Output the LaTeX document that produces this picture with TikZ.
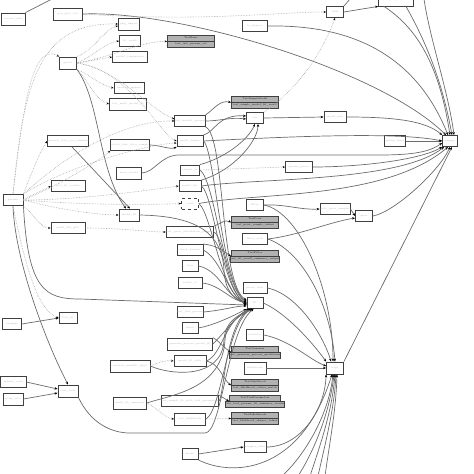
\documentclass[tikz,border=0pt]{standalone}
\usetikzlibrary{arrows.meta}
\newcommand\tinyfnt{\fontsize{2.4}{2.8}\selectfont}
\tikzset{
 nd/.style={draw=black!75, line width=0.85pt, fill=white, inner sep=0pt, font=\tinyfnt, text=gray!60},
 recrow/.style={draw=black!75, line width=0.85pt, fill=gray!60, inner sep=0pt, font=\tinyfnt, text=gray!15!black, minimum height=6pt},
 dep/.style={draw=black!58, line width=0.7pt, -{Stealth[length=3pt,width=2.4pt,color=black]}},
 dep0/.style={draw=black!58, line width=0.7pt},
 lgt/.style={draw=black!35, line width=0.6pt, densely dotted, -{Stealth[length=2.5pt,width=2pt,color=black]}},
 lbl/.style={font=\tinyfnt, text=gray!55, inner sep=0.3pt},
}
\newcommand\bxn[6]{\node[nd,minimum width=#4pt,minimum height=#5pt] (#1) at (#2,#3) {#6};}
\newcommand\recnode[6]{\node[recrow,minimum width=#4pt] (#1a) at (#2,#3-3) {#5}; \node[recrow,minimum width=#4pt] (#1b) at (#2,#3+3) {#6};}
\begin{document}
\begin{tikzpicture}[x=1pt,y=-1pt]
\useasboundingbox (0,0) rectangle (474,474);
\bxn{L1}{13}{19}{24}{12}{version\_info}
\bxn{B2}{68}{14}{29}{12}{gen\_plot\_test}
\bxn{B3}{129}{24}{21}{12}{pkg\_import}
\bxn{B4}{130}{41}{21}{11}{fit\_result}
\bxn{B5}{130}{57}{35}{11}{model\_comparison}
\bxn{B6}{68}{63}{17}{12}{pytest}
\bxn{B7}{129}{88}{30}{11}{analysis\_helpers}
\bxn{B8}{128}{104}{37}{12}{test\_multi\_model\_fit}
\recnode{G1}{191}{41}{47}{TestBasic}{test\_init\_params\_set}
\bxn{B10}{255}{26}{25}{11}{io\_helpers}
\bxn{N1}{335}{12}{17}{11}{utils}
\bxn{T0}{396}{0}{35}{12}{plot\_utils}
\recnode{G2}{255}{102}{47}{TestSimpleModel}{test\_simple\_model\_fit\_result}
\bxn{B12}{255}{118}{17}{11}{core}
\bxn{B13}{190}{121}{28}{11}{test\_models\_general}
\bxn{B14}{335}{117}{22}{11}{model\_info}
\bxn{C1}{68}{141}{41}{11}{generate\_data\_for\_simulate}
\bxn{C2}{130}{145}{39}{11}{create\_fake\_data\_sample}
\bxn{C3}{190}{141}{26}{11}{model\_helper}
\bxn{C4}{129}{173}{25}{12}{noise\_model}
\bxn{C5}{190}{170}{19}{10}{sample\_fn}
\bxn{C6}{299}{167}{27}{11}{param\_parser}
\bxn{R}{450}{141}{15}{11}{numpy}
\bxn{C7}{395}{141}{21}{11}{param\_fixes}
\bxn{D1}{68}{186}{34}{11}{plot\_fit\_results}
\bxn{P}{13}{200}{20}{11}{params}
\bxn{D2}{190}{186}{22}{11}{model\_list}
\node[nd,dashed,minimum width=17pt,minimum height=11pt] (DS) at (190,203.5) {conf};
\bxn{D3}{129}{215}{20}{12}{model\_fit}
\bxn{D4}{255}{205}{17}{11}{fitter}
\bxn{D5}{335}{209}{30}{11}{data\_prior\_sampler}
\bxn{D6}{364}{216}{17}{11}{prior}
\recnode{G3}{255}{222}{47}{TestPrior}{test\_prior\_sample\_values}
\bxn{D7}{68}{228}{34}{11}{multi\_fits\_plot}
\bxn{D8}{190}{232}{43}{11}{test\_prior\_distribution\_samples}
\bxn{D9}{255}{239}{25}{11}{fitter\_utils}
\bxn{E1}{190}{250}{26}{11}{check\_bounds}
\recnode{G4}{255}{256}{47}{TestFitter}{test\_fit\_result\_summary\_output}
\bxn{E2}{190}{266}{16}{11}{stats}
\bxn{E3}{190}{283}{24}{11}{results\_io}
\bxn{E4}{255}{288}{24}{11}{priors\_utils}
\bxn{H}{255}{303}{16}{11}{fit}
\bxn{E5}{190}{312}{26}{11}{test\_tied\_params}
\bxn{F1}{68}{318}{18}{11}{tied\_fit}
\bxn{F2}{12}{324}{19}{11}{example}
\bxn{E6}{190}{328}{16}{11}{bayes}
\bxn{E7}{255}{335}{17}{11}{statistics}
\bxn{E8}{190}{344}{45}{12}{gaussian\_process\_model\_fit}
\recnode{G5}{255}{352}{47}{TestGaussian}{test\_gaussian\_process\_predictions}
\bxn{F3}{190}{361}{32}{11}{model\_fit\_utils}
\bxn{F4}{130}{366}{40}{12}{analysis\_multifit\_plots}
\bxn{F5}{255}{368}{22}{12}{likelihoods}
\bxn{S}{335}{368}{17}{12}{scipy}
\bxn{F6}{13}{382}{26}{11}{sphinx\_conf}
\bxn{F7}{68}{391}{20}{12}{conf\_tests}
\recnode{G6}{255}{385}{47}{TestLikelihood}{test\_likelihood\_values\_match}
\bxn{F8}{13}{399}{20}{12}{setup\_docs}
\bxn{F9}{130}{403}{33}{12}{multi\_fit\_summary}
\bxn{F10}{190}{401}{53}{11}{test\_simple\_fit\_with\_tied\_parameters}
\recnode{G7}{255}{401}{51}{TestTiedParameters}{test\_tied\_params\_fit\_summary\_results}
\bxn{F11}{190}{419}{31}{12}{test\_likelihoods}
\recnode{G8}{255}{418}{47}{TestLikelihoods}{test\_likelihood\_shapes\_values}
\bxn{F12}{255}{447}{22}{11}{sampler\_utils}
\bxn{F13}{190}{454}{16}{11}{mcmc}
% free ends
\coordinate (t1) at (52,-1);
\coordinate (t2) at (350,-1);
\coordinate (t3) at (424,-1);
\coordinate (b1) at (282,476);
\coordinate (b2) at (298,476);
\coordinate (b3) at (310,476);
\coordinate (b4) at (318,476);
\coordinate (b5) at (325,476);
% top area
\draw[dep0] (L1.north east) -- (t1);
\draw[dep0] (t2) -- (N1.north east);
\draw[dep] (N1.east) -- (T0.south west);
\draw[dep] (B2.east) .. controls (180,10) and (380,70) .. ([xshift=-4pt]R.north);
\draw[dep] (B10.east) .. controls (330,25) and (410,40) .. ([xshift=-2pt]R.north);
\draw[dep] ([xshift=-12pt]T0.south) .. controls (420,30) and (440,70) .. (R.north);
\draw[dep] ([xshift=10pt]T0.south) .. controls (425,40) and (442,80) .. ([xshift=2pt]R.north);
\draw[dep] (t3) .. controls (430,40) and (448,90) .. ([xshift=4pt]R.north);
\draw[lgt] (B2.east) .. controls (200,22) and (280,12) .. (N1.west);
\draw[lgt] (B12.north east) .. controls (290,95) and (320,60) .. (N1.south);
% into R
\draw[dep] (B14.east) .. controls (390,117) and (425,120) .. (R.north west);
\draw[dep] (C3.east) .. controls (300,136) and (400,132) .. (R.west);
\draw[dep] (C4.east) .. controls (155,172) and (160,156) .. (178,155) -- (380,155) .. controls (420,155) and (432,150) .. ([yshift=-2pt]R.west);
\draw[dep] (C6.east) .. controls (360,167) and (420,160) .. (R.south west);
\draw[dep] (D2.east) .. controls (260,178) and (400,182) .. ([xshift=2pt]R.south west);
\draw[dep] (DS.east) .. controls (260,192) and (385,200) .. ([xshift=-2pt]R.south);
\draw[dep] (D6.east) .. controls (395,212) and (440,170) .. (R.south);
\draw[dep] (C7.east) -- (R.west);
\draw[dep] (S.north east) -- ([xshift=2pt]R.south);
% core area
\draw[dep] (B12.east) -- (B14.west);
\draw[dep] (C3.north east) .. controls (215,132) and (218,114) .. ([yshift=2pt]B12.west);
\draw[dep] (B13.east) .. controls (220,121) and (230,117) .. ([yshift=-1pt]B12.west);
\draw[dep] (C5.north east) .. controls (225,158) and (248,140) .. (B12.south);
\draw[dep] (D2.north east) .. controls (235,170) and (258,140) .. ([xshift=3pt]B12.south);
\draw[dep] (B13.north east) .. controls (215,108) and (220,100) .. (G2a.south west);
\draw[dep] (C2.east) .. controls (160,145) and (170,150) .. (C3.south west);
\draw[dep] (B6.south east) .. controls (100,100) and (98,170) .. ([xshift=-3pt]D3.north);
\draw[dep] ([xshift=4pt]C1.south) -- ([xshift=1pt]D3.north);
% bundle into H
\draw[dep] (B13.south east) .. controls (225,135) and (220,285) .. ([yshift=3pt]H.west);
\draw[dep] (C3.east) .. controls (215,150) and (222,288) .. ([yshift=2pt]H.west);
\draw[dep] (C5.east) .. controls (215,180) and (224,290) .. ([yshift=1pt]H.west);
\draw[dep] (D2.east) .. controls (214,195) and (222,292) .. (H.west);
\draw[dep] (DS.east) .. controls (212,215) and (221,294) .. ([yshift=-1pt]H.west);
\draw[dep] (D3.east) .. controls (200,216) and (222,235) .. (224,270) .. controls (225,292) and (235,300) .. (H.west);
\draw[dep] (D8.east) .. controls (225,240) and (226,290) .. ([yshift=-2pt]H.west);
\draw[dep] (E1.east) .. controls (222,260) and (228,296) .. ([yshift=-1pt]H.west);
\draw[dep] (E2.east) .. controls (220,270) and (226,298) .. (H.west);
\draw[dep] (E3.east) .. controls (220,285) and (230,300) .. (H.west);
\draw[dep] (P.south east) .. controls (28,290) and (45,299) .. (80,299) -- ([yshift=-2pt]H.west);
\draw[dep] (E5.east) .. controls (225,310) and (235,306) .. ([yshift=-3pt]H.west);
\draw[dep] (E6.east) .. controls (215,325) and (235,315) .. (H.south west);
\draw[dep] (E8.east) .. controls (222,335) and (235,318) .. ([xshift=2pt]H.south west);
\draw[dep] (F3.east) .. controls (222,355) and (225,320) .. ([xshift=3pt]H.south west);
\draw[dep] (F4.east) .. controls (170,375) and (222,380) .. (224,340) .. controls (225,320) and (240,315) .. ([xshift=4pt]H.south west);
\draw[dep] (F9.east) .. controls (170,395) and (222,390) .. (225,340) .. controls (226,322) and (240,316) .. ([xshift=5pt]H.south west);
\draw[dep] (F10.east) .. controls (224,395) and (226,320) .. ([xshift=5pt]H.south west);
\draw[dep] (F11.east) .. controls (222,410) and (227,320) .. ([xshift=6pt]H.south west);
\draw[dep] (F7.south east) .. controls (90,422) and (110,433) .. (130,433) -- (205,433) .. controls (222,433) and (227,330) .. ([xshift=7pt]H.south west);
% records
\draw[dep] (D8.north east) .. controls (220,224) and (225,219) .. (G3a.south west);
\draw[dep] (E1.north east) .. controls (215,245) and (222,250) .. (G4a.south west);
\draw[dep] (E8.north east) .. controls (218,340) and (222,346) .. (G5a.south west);
\draw[dep] (F3.east) .. controls (220,364) and (222,378) .. (G6a.south west);
\draw[dep] (F10.north east) .. controls (220,396) and (224,398) .. (G7a.south west);
\draw[lgt] (F11.east) -- (G8a.south west) node[lbl,midway,above]{1};
\draw[lgt] (B6.east) .. controls (110,58) and (140,41) .. (G1a.south west) node[lbl,pos=0.6,above]{1};
% into S
\draw[dep] (D4.east) .. controls (300,212) and (333,290) .. ([xshift=-2pt]S.north);
\draw[dep] (D9.east) .. controls (300,250) and (330,300) .. (S.north);
\draw[dep] (E4.east) .. controls (300,295) and (325,340) .. ([xshift=-4pt]S.north);
\draw[dep] (H.east) .. controls (290,315) and (318,350) .. (S.north west);
\draw[dep] (E7.east) .. controls (290,340) and (310,360) .. ([yshift=2pt]S.west);
\draw[dep] (F5.east) -- (S.west);
\draw[dep] (F12.east) .. controls (300,447) and (325,410) .. (S.south west);
\draw[dep] (F13.south east) .. controls (230,476) and (300,476) .. ([xshift=-3pt]S.south);
\draw[dep] (F13.east) -- (F12.west);
\draw[dep] (b1) .. controls (300,460) and (328,420) .. ([xshift=-2pt]S.south);
\draw[dep] (b2) .. controls (315,450) and (330,410) .. ([xshift=-1pt]S.south);
\draw[dep] (b3) .. controls (322,440) and (332,410) .. (S.south);
\draw[dep] (b4) .. controls (326,440) and (334,410) .. ([xshift=1pt]S.south);
\draw[dep] (b5) .. controls (330,440) and (336,410) .. ([xshift=2pt]S.south);
% D5, D6
\draw[dep] (D4.east) .. controls (285,204) and (300,210) .. (D5.west);
\draw[dep] (D5.east) -- (D6.west);
\draw[dep] (D9.east) .. controls (300,235) and (330,222) .. ([yshift=-2pt]D6.west);
% left
\draw[dep] (P.south) .. controls (15,260) and (45,340) .. (F7.north);
\draw[dep] (F6.east) -- ([yshift=2pt]F7.west);
\draw[dep] (F8.east) -- ([yshift=-2pt]F7.west);
\draw[dep] (F2.east) -- (F1.west);
% light dotted
\draw[lgt] (P.north) .. controls (22,120) and (30,40) .. (B6.north west);
\draw[lgt] (P.north) .. controls (24,80) and (40,22) .. (B3.west) node[lbl,pos=0.8,above]{1};
\draw[lgt] (B6.north east) .. controls (95,50) and (105,28) .. ([yshift=-2pt]B3.west) node[lbl,pos=0.5,above]{1};
\draw[lgt] (B6.east) .. controls (95,55) and (105,43) .. (B4.west);
\draw[lgt] (B6.east) -- (B5.west) node[lbl,midway,above]{1};
\draw[lgt] (B6.south east) .. controls (90,75) and (100,85) .. (B7.west) node[lbl,pos=0.5,above]{1};
\draw[lgt] (B6.south east) .. controls (88,80) and (95,100) .. (B8.west);
\draw[lgt] (B6.east) .. controls (120,70) and (150,110) .. ([yshift=2pt]B13.west) node[lbl,pos=0.5,above]{1};
\draw[lgt] (B6.east) .. controls (130,70) and (160,135) .. (C3.west);
\draw[lgt] (C5.east) -- (C6.west);
\draw[lgt] (P.east) .. controls (40,190) and (45,190) .. (D1.west);
\draw[lgt] (P.east) .. controls (60,210) and (100,215) .. (D3.west) node[lbl,pos=0.5,above]{1};
\draw[lgt] (P.south east) .. controls (35,215) and (40,228) .. (D7.west);
\draw[lgt] (P.east) .. controls (60,185) and (100,160) .. (C2.south west) node[lbl,pos=0.5,above]{1};
\draw[lgt] (P.north east) .. controls (60,160) and (120,120) .. (B13.west) node[lbl,pos=0.6,above]{1};
\draw[lgt] (P.north east) .. controls (60,170) and (140,145) .. ([yshift=-2pt]C3.west);
\draw[lgt] (P.east) .. controls (80,200) and (150,190) .. (D2.west) node[lbl,pos=0.7,above]{1};
\draw[lgt] (P.east) .. controls (80,205) and (150,205) .. (DS.west);
\draw[lgt] (P.north east) .. controls (40,150) and (45,145) .. (C1.west);
\draw[lgt] (P.south) .. controls (28,280) and (40,310) .. (F1.west) node[lbl,pos=0.6,left]{1};
\draw[lgt] (F4.east) .. controls (160,362) and (165,360) .. (F3.west) node[lbl,pos=0.4,above]{1};
\draw[lgt] (F9.east) .. controls (160,410) and (165,418) .. (F11.west) node[lbl,pos=0.4,above]{1};
\draw[lgt] (D7.east) .. controls (120,228) and (150,232) .. (D8.west) node[lbl,pos=0.5,above]{1};
\end{tikzpicture}
\end{document}
